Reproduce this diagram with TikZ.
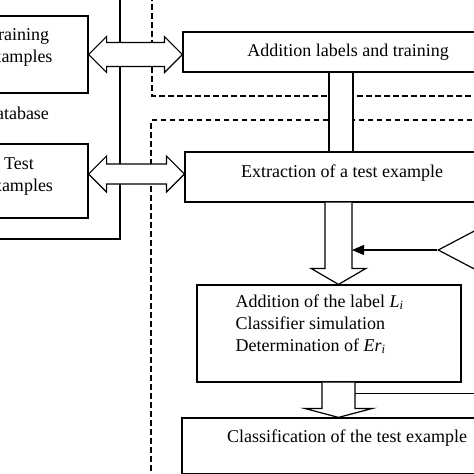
\documentclass[tikz,border=0pt]{standalone}
\usepackage{fontspec}
\setmainfont{Liberation Serif}
\usetikzlibrary{calc,arrows.meta,shapes.geometric}

\tikzset{every picture/.style={line width=1.2pt}}
\tikzset{
  box/.style={draw, inner sep=0pt, font=\fontsize{18}{22}\selectfont},
  txt/.style={inner sep=0pt, font=\fontsize{18}{22}\selectfont},
  harrow/.style={draw, fill=white},
  regionline/.style={dash pattern={on 5.5pt off 3.5pt}},
  fbarrow/.style={-{Triangle[length=12pt,width=10pt]}},
}

\begin{document}
\begin{tikzpicture}[x=1pt,y=1pt,yscale=-1]
\useasboundingbox (0,0) rectangle (474,474);

% Database block
\node [box, minimum width=208pt, minimum height=252pt] (db) at (16,113) {Database};
\node [box, minimum width=136pt, minimum height=77pt] (train) at (20,54.5) {};
\node [box, minimum width=136pt, minimum height=74pt] (test) at (20,181) {};
% Text Node
\node [txt, align=center, anchor=base] (traintxt) at (18.5,62.7) {Training\\examples};
% Text Node
\node [txt, align=center, anchor=base] (testtxt) at (19,191.5) {Test\\examples};

% training and test regions
\draw [regionline] (152,-5) |- (490,96);
\draw [regionline] (490,120) -| (151,480);

% column of the flow
\coordinate (axis) at (338.5,0);
\coordinate (chan) at (341,0);

% Right blocks
\node [box, minimum width=330pt, minimum height=40pt] (addlab) at (348,52) {Addition labels and training};
\node [box, minimum width=314pt, minimum height=50pt, text depth=12pt] (extract) at (342,177) {Extraction of a test example};
\node [box, minimum width=264pt, minimum height=97pt] (labelbox) at (329,333.5) {};
% Text Node
\node [txt, align=left, anchor=base west] (labeltxt) at (235,351) {Addition of the label \textit{L}\textsubscript{\textit{i}}\\Classifier simulation\\Determination of \textit{Er}\textsubscript{\textit{i}}};
\node [box, minimum width=330pt, minimum height=56pt, text depth=20.3pt] (classify) at (347,446) {Classification of the test example};
\node [draw, diamond, inner sep=0pt, minimum width=134pt, minimum height=70.7pt] (decide) at (505,250) {};

% Channel between the training and the test
\fill [white] ($(chan |- addlab.south)+(-12,0)$) rectangle ($(chan |- extract.north)+(12,0)$);
\draw ($(chan |- addlab.south)+(-12,0)$) -- ($(chan |- extract.north)+(-12,0)$);
\draw ($(chan |- addlab.south)+(12,0)$) -- ($(chan |- extract.north)+(12,0)$);

% Double arrows to the database
\draw [harrow] (train.east) -- ++(18,-18) -- ++(0,6) -- ($(addlab.west |- train.east)+(-18,-12)$) -- ++(0,-6) -- (addlab.west |- train.east) -- ++(-18,18) -- ++(0,-6) -- ($(train.east)+(18,12)$) -- ++(0,6) -- cycle;
\coordinate (t2) at ($(test.east)+(0,-7)$);
\draw [harrow] (t2) -- ++(18,-18) -- ++(0,8) -- ($(extract.west |- t2)+(-18,-10)$) -- ++(0,-8) -- (extract.west |- t2) -- ++(-18,18) -- ++(0,-8) -- ($(t2)+(18,10)$) -- ++(0,8) -- cycle;

% Down arrows
\draw [harrow] ($(axis |- extract.south)+(-13.5,0)$) -- ($(axis |- labelbox.north)+(-13.5,-16)$) -- ++(-14,0) -- (axis |- labelbox.north) -- ++(27.5,-16) -- ++(-14,0) -- ($(axis |- extract.south)+(13.5,0)$);
\draw [harrow] ($(axis |- labelbox.south)+(-16.5,0)$) -- ($(axis |- classify.north)+(-16.5,-9)$) -- ++(-17.5,0) -- (axis |- classify.north) -- ++(34,-9) -- ++(-17.5,0) -- ($(axis |- labelbox.south)+(16.5,0)$);

% Feedback loop
\draw [fbarrow] (decide.west) -- ($(axis |- decide.west)+(13.5,0)$);
\draw [fbarrow] ($(axis |- labelbox.south)+(16.5,11)$) -| (decide.south);
\end{tikzpicture}
\end{document}
